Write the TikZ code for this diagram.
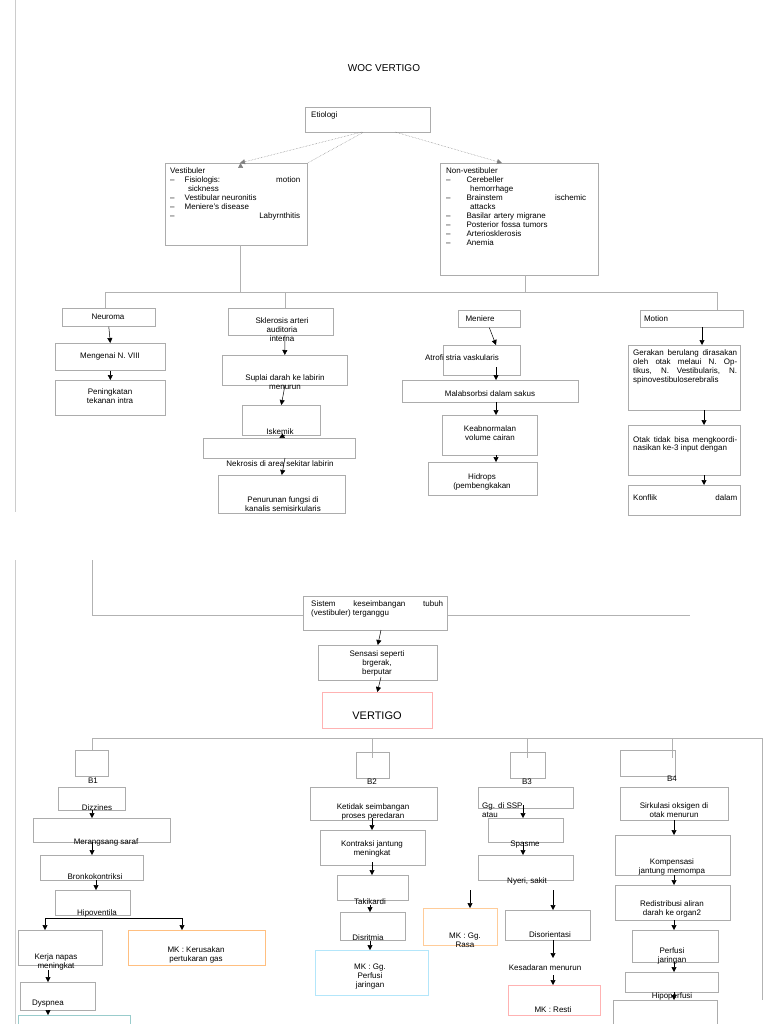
\documentclass[tikz,border=0pt]{standalone}
\usepackage{fontspec}
\setmainfont{Liberation Sans}
\usetikzlibrary{arrows.meta}
\begin{document}
\begin{tikzpicture}[x=1pt,y=-1pt,
 bx/.style={draw=gray!65,line width=0.6pt,anchor=north west,inner sep=0pt},
 tx/.style={font=\fontsize{8}{9}\selectfont,align=center,inner sep=0pt},
 tl/.style={font=\fontsize{8}{9}\selectfont,align=left,inner sep=0pt,anchor=north west},
 ar/.style={-{Triangle[length=5pt,width=5pt]},line width=0.5pt},
 ln/.style={draw=gray!60,line width=0.6pt}]
\useasboundingbox (0,0) rectangle (768,1024);
\draw[ln,gray!40] (15,0)--(15,512);
\draw[ln,gray!40] (15,560)--(15,1024);
% ---------- top page
\node[font=\fontsize{10}{12}\selectfont] (title) at (384,68) {WOC VERTIGO};
\node[bx,minimum width=125,minimum height=25] (et) at (305,107) {};
\node[tl] at (311,112) {Etiologi};
\node[bx,minimum width=142,minimum height=82] (ve) at (165,163) {};
\node[tl,text width=130,text justified] at (170,168) {Vestibuler\\
\hspace*{0pt}–\hspace{10pt}Fisiologis:\hfill motion\\ \hspace*{18pt}sickness\\
–\hspace{10pt}Vestibular neuronitis\\ –\hspace{10pt}Meniere’s disease\\ –\hfill Labyrnthitis};
\node[bx,minimum width=158,minimum height=112] (nv) at (440,163) {};
\node[tl,text width=140] at (446,168) {Non-vestibuler\\
–\hspace{16pt}Cerebeller\\ \hspace*{24pt}hemorrhage\\
–\hspace{16pt}Brainstem\hfill ischemic\\ \hspace*{24pt}attacks\\
–\hspace{16pt}Basilar artery migrane\\ –\hspace{16pt}Posterior fossa tumors\\
–\hspace{16pt}Arteriosklerosis\\ –\hspace{16pt}Anemia};
\draw[ar,densely dotted,gray] (et.south) ++(-5,0) -- (ve.north east) ++(-67,0);
\draw[ar,densely dotted,gray] (362,132) -- (240,163);
\draw[ar,densely dotted,gray] (395,132) -- (502,163);
\coordinate (hl) at (105,292); \coordinate (hr) at (717,292);
\draw[ln] (hl)--(hr);
\draw[ln] (240,245)--(240,292); \draw[ln] (525,275)--(525,292);
\draw[ln] (105,292)--(105,308); \draw[ln] (285,292)--(285,308); \draw[ln] (717,292)--(717,310);
% column 1
\node[bx,minimum width=93,minimum height=18] (n1) at (62,308) {};
\node[tx] at (108,317) {Neuroma};
\node[bx,minimum width=110,minimum height=27] (n2) at (55,343) {};
\node[tx] at (110,356) {Mengenai N. VIII};
\node[bx,minimum width=110,minimum height=35] (n3) at (55,380) {};
\node[tx] at (110,396) {Peningkatan\\tekanan intra};
\draw[ar] (n1.south) -- (n2.north); \draw[ar] (n2.south) -- (n3.north);
% column 2
\node[bx,minimum width=105,minimum height=27] (s1) at (228,308) {};
\node[tx] at (282,330) {Sklerosis arteri\\auditoria\\interna};
\node[bx,minimum width=125,minimum height=30] (s2) at (222,355) {};
\node[tx] at (285,382) {Suplai darah ke labirin\\menurun};
\node[bx,minimum width=78,minimum height=30] (s3) at (242,405) {};
\node[tx] at (280,432) {Iskemik};
\node[bx,minimum width=152,minimum height=20] (s4) at (203,438) {};
\node[tx] at (280,464) {Nekrosis di area sekitar labirin};
\node[bx,minimum width=127,minimum height=38] (s5) at (218,475) {};
\node[tx] at (283,504) {Penurunan fungsi di\\kanalis semisirkularis};
\draw[ar] (285,335)--(s2.north); \draw[ar] (285,385)--(s3.north);
\draw[ar] (285,435)--(s4.north); \draw[ar] (285,458)--(s5.north);
% column 3
\node[bx,minimum width=62,minimum height=17] (m1) at (458,310) {};
\node[tx] at (480,319) {Meniere};
\node[bx,minimum width=77,minimum height=30] (m2) at (443,345) {};
\node[tx] at (462,358) {Atrofi stria vaskularis};
\node[bx,minimum width=176,minimum height=22] (m3) at (402,380) {};
\node[tx] at (490,394) {Malabsorbsi dalam sakus};
\node[bx,minimum width=95,minimum height=40] (m4) at (442,415) {};
\node[tx] at (490,433) {Keabnormalan\\volume cairan};
\node[bx,minimum width=109,minimum height=33] (m5) at (428,462) {};
\node[tx] at (482,482) {Hidrops\\(pembengkakan};
\draw[ar] (m1.south)--(496,345); \draw[ar] (496,367)--(496,380);
\draw[ar] (496,402)--(496,415); \draw[ar] (496,455)--(496,462);
% column 4
\node[bx,minimum width=103,minimum height=17] (o1) at (640,310) {};
\node[tx] at (656,319) {Motion};
\node[bx,minimum width=112,minimum height=65] (o2) at (628,345) {};
\node[tl,text width=104,text justified] at (633,350) {Gerakan berulang dirasakan oleh otak melaui N. Optikus, N. Vestibularis, N. spinovestibuloserebralis};
\node[bx,minimum width=112,minimum height=50] (o3) at (628,425) {};
\node[tl,text width=104,text justified] at (633,436) {Otak tidak bisa mengkoordinasikan ke-3 input dengan};
\node[bx,minimum width=112,minimum height=30] (o4) at (628,485) {};
\node[tl,text width=104] at (633,494) {Konflik\hfill dalam};
\draw[ar] (702,327)--(702,345); \draw[ar] (704,410)--(704,425); \draw[ar] (704,475)--(704,485);
% ---------- bottom page
\draw[ln] (92,560)--(92,615)--(690,615);
\node[bx,minimum width=144,minimum height=34,fill=white] (si) at (303,596) {};
\node[tl,text width=132,text justified] at (311,600) {Sistem keseimbangan tubuh \hfill (vestibuler) terganggu};
\node[bx,minimum width=119,minimum height=35] (se) at (318,645) {};
\node[tx] at (377,663) {Sensasi seperti\\brgerak,\\berputar};
\node[bx,draw=red!30,minimum width=110,minimum height=36] (vg) at (322,692) {};
\node[font=\fontsize{11}{13}\selectfont] at (377,716) {VERTIGO};
\draw[ar] (381,630)--(se.north); \draw[ar] (381,677)--(vg.north);
\draw[ln] (92,738)--(762,738); \draw[ln] (762,738)--(762,1000);
\draw[ln] (92,738)--(92,750); \draw[ln] (372,738)--(372,758); \draw[ln] (527,738)--(527,758); \draw[ln] (672,738)--(672,758);
\node[bx,minimum width=33,minimum height=26] (b1) at (75,750) {};
\node[tx] at (93,781) {B1};
\node[bx,minimum width=33,minimum height=26] (b2) at (356,752) {};
\node[tx] at (372,782) {B2};
\node[bx,minimum width=35,minimum height=26] (b3) at (510,752) {};
\node[tx] at (527,782) {B3};
\node[bx,minimum width=55,minimum height=26] (b4) at (620,750) {};
\node[tx] at (672,779) {B4};
% B1
\node[bx,minimum width=67,minimum height=23] (d1) at (58,787) {};
\node[tx] at (97,808) {Dizzines};
\node[bx,minimum width=137,minimum height=24] (d2) at (33,818) {};
\node[tx] at (106,842) {Merangsang saraf};
\node[bx,minimum width=103,minimum height=25] (d3) at (40,855) {};
\node[tx] at (95,877) {Bronkokontriksi};
\node[bx,minimum width=75,minimum height=25] (d4) at (55,890) {};
\node[tx] at (97,913) {Hipoventila};
\draw[ar] (92,810)--(92,818); \draw[ar] (92,842)--(92,855); \draw[ar] (96,880)--(96,890);
\coordinate (hv) at (45,918); \coordinate (hv2) at (182,918);
\draw[line width=0.6pt] (hv)--(hv2);
\node[bx,minimum width=84,minimum height=35] (d5) at (18,930) {};
\node[tx] at (56,962) {Kerja napas\\meningkat};
\node[bx,draw=orange!50,line width=1pt,minimum width=137,minimum height=35] (d6) at (128,930) {};
\node[tx] at (196,955) {MK : Kerusakan\\pertukaran gas};
\draw[ar] (hv)--(d5.north-|hv); \draw[ar] (hv2)--(d6.north-|hv2);
\node[bx,minimum width=75,minimum height=28] (d7) at (20,982) {};
\node[tx] at (48,1004) {Dyspnea};
\draw[ar] (48,970)--(d7.north-|48,0);
\node[bx,draw=teal!40,minimum width=112,minimum height=20] (d8) at (18,1015) {};
\draw[ar] (48,1010)--(48,1015);
% B2
\node[bx,minimum width=127,minimum height=33] (k1) at (310,787) {};
\node[tx] at (373,812) {Ketidak seimbangan\\proses peredaran};
\node[bx,minimum width=105,minimum height=35] (k2) at (320,830) {};
\node[tx] at (372,849) {Kontraksi jantung\\meningkat};
\node[bx,minimum width=71,minimum height=25] (k3) at (337,875) {};
\node[tx] at (370,902) {Takikardi};
\node[bx,minimum width=65,minimum height=28] (k4) at (340,912) {};
\node[tx] at (368,938) {Disritmia};
\node[bx,draw=cyan!30,minimum width=113,minimum height=45] (k5) at (315,950) {};
\node[tx] at (370,977) {MK : Gg.\\Perfusi\\jaringan};
\draw[ar] (372,818)--(k2.north-|372,0); \draw[ar] (372,862)--(372,875);
\draw[ar] (370,905)--(370,912); \draw[ar] (370,941)--(370,950);
% B3
\node[bx,minimum width=95,minimum height=21] (g1) at (478,787) {};
\node[tl] at (482,802) {Gg. di SSP\\atau};
\node[bx,minimum width=75,minimum height=24] (g2) at (488,818) {};
\node[tx] at (525,845) {Spasme};
\node[bx,minimum width=95,minimum height=25] (g3) at (478,855) {};
\node[tx] at (527,881) {Nyeri, sakit};
\draw[ar] (523,805)--(g2.north-|523,0); \draw[ar] (523,842)--(g3.north-|523,0);
\coordinate (ny) at (527,887);
\node[bx,draw=orange!40,minimum width=74,minimum height=37] (g4) at (423,908) {};
\node[tx] at (465,940) {MK : Gg.\\Rasa};
\node[bx,minimum width=85,minimum height=30] (g5) at (505,910) {};
\node[tx] at (550,935) {Disorientasi};
\draw[ar] (470,890)--(470,908); \draw[ar] (553,890)--(553,910);
\node[tx] at (545,968) {Kesadaran menurun};
\draw[ar] (553,940)--(553,958); \draw[ar] (553,975)--(553,985);
\node[bx,draw=red!30,line width=0.8pt,minimum width=92,minimum height=30] (g6) at (508,985) {};
\node[tx] at (553,1010) {MK : Resti};
% B4
\node[bx,minimum width=108,minimum height=33] (c1) at (620,787) {};
\node[tx] at (674,810) {Sirkulasi oksigen di\\otak menurun};
\node[bx,minimum width=115,minimum height=40] (c2) at (615,835) {};
\node[tx] at (672,867) {Kompensasi\\jantung memompa};
\node[bx,minimum width=115,minimum height=35] (c3) at (615,885) {};
\node[tx] at (672,909) {Redistribusi aliran\\darah ke organ2};
\node[bx,minimum width=86,minimum height=32] (c4) at (632,930) {};
\node[tx] at (672,956) {Perfusi\\jaringan};
\node[bx,minimum width=93,minimum height=20] (c5) at (625,972) {};
\node[tx] at (672,996) {Hipoperfusi};
\node[bx,minimum width=104,minimum height=30] (c6) at (613,1000) {};
\draw[ar] (674,820)--(674,835); \draw[ar] (674,875)--(674,885);
\draw[ar] (674,920)--(674,930); \draw[ar] (674,962)--(674,972); \draw[ar] (674,992)--(674,1000);
\end{tikzpicture}
\end{document}
